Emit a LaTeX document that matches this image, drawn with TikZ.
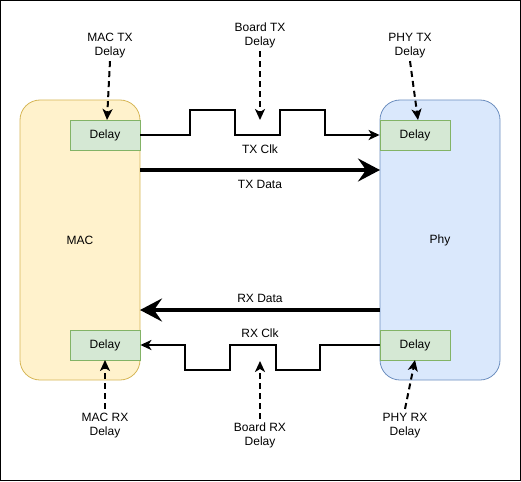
\documentclass[tikz,border=0pt]{standalone}
\usepackage{fontspec}
\setmainfont{Liberation Sans}
\usetikzlibrary{arrows.meta}
\begin{document}
\begin{tikzpicture}[x=1pt,y=-1pt,
  font=\fontsize{12}{14}\selectfont,
  blk/.style={draw, rounded corners=20pt, line width=0.8pt},
  dly/.style={draw=delayline, fill=delayfill, line width=0.8pt, minimum width=70pt, minimum height=30pt, inner sep=0pt},
  lbl/.style={align=center, inner sep=0pt},
  sig/.style={line width=2pt, -{Stealth[length=11pt,width=10pt,inset=3pt]}},
  data/.style={line width=4.5pt, -{Stealth[length=22pt,width=23pt,inset=8pt]}},
  dsh/.style={line width=2pt, dash pattern=on 6pt off 4pt, -{Stealth[length=11pt,width=10pt,inset=3pt]}}
]
\definecolor{macfill}{HTML}{FFF2CC}\definecolor{macline}{HTML}{D6B656}
\definecolor{phyfill}{HTML}{DAE8FC}\definecolor{phyline}{HTML}{6C8EBF}
\definecolor{delayfill}{HTML}{D5E8D4}\definecolor{delayline}{HTML}{82B366}
\draw[line width=1pt] (0.5,0.5) rectangle (520.5,480.5);
\useasboundingbox (0,0) rectangle (521,481);
% blocks
\draw[blk, draw=macline, fill=macfill] (20,100) rectangle (140,380);
\draw[blk, draw=phyline, fill=phyfill] (380,100) rectangle (500,380);
\node (mac) at (80,240) {MAC};
\node (phy) at (440,240) {Phy};
% delay boxes
\node[dly] (mtx) at (105,135) {Delay};
\node[dly] (ptx) at (415,135) {Delay};
\node[dly] (mrx) at (105,345) {Delay};
\node[dly] (prx) at (415,345) {Delay};
% TX clock
\draw[sig] (mtx.east) -- (190,135) -- (190,110) -- (235,110) -- (235,135) -- (280,135) -- (280,110) -- (325,110) -- (325,135) -- (ptx.west);
\node (txclk) at (260,149) {TX Clk};
% TX data
\coordinate (txd0) at (140,170);
\coordinate (txd1) at (380,170);
\draw[data] (txd0) -- (txd1);
\node (txdata) at (260,184) {TX Data};
% RX data
\coordinate (rxd0) at (380,310);
\coordinate (rxd1) at (140,310);
\draw[data] (rxd0) -- (rxd1);
\node (rxdata) at (260,298) {RX Data};
% RX clock
\draw[sig] (prx.west) -- (320,345) -- (320,370) -- (276,370) -- (276,345) -- (230,345) -- (230,370) -- (185,370) -- (185,345) -- (mrx.east);
\node (rxclk) at (260,333) {RX Clk};
% delay labels
\node[lbl] (lmtx) at (110,45.5) {MAC TX\\Delay};
\node[lbl] (lbtx) at (260,35.5) {Board TX\\Delay};
\node[lbl] (lptx) at (410,45.5) {PHY TX\\Delay};
\node[lbl] (lmrx) at (105,425.5) {MAC RX\\Delay};
\node[lbl] (lbrx) at (260,435.5) {Board RX\\Delay};
\node[lbl] (lprx) at (405,425.5) {PHY RX\\Delay};
\coordinate (amtx) at (107,120);
\coordinate (abtx) at (260,120);
\coordinate (aptx) at (418,120);
\coordinate (amrx) at (105,360);
\coordinate (abrx) at (260,361);
\coordinate (aprx) at (415,360);
\draw[dsh] ([yshift=-3pt]lmtx.south) -- (amtx);
\draw[dsh] ([yshift=-3pt]lbtx.south) -- (abtx);
\draw[dsh] ([yshift=-3pt]lptx.south) -- (aptx);
\draw[dsh] ([yshift=4pt]lmrx.north) -- (amrx);
\draw[dsh] ([yshift=4pt]lbrx.north) -- (abrx);
\draw[dsh] ([yshift=4pt]lprx.north) -- (aprx);
\end{tikzpicture}
\end{document}
